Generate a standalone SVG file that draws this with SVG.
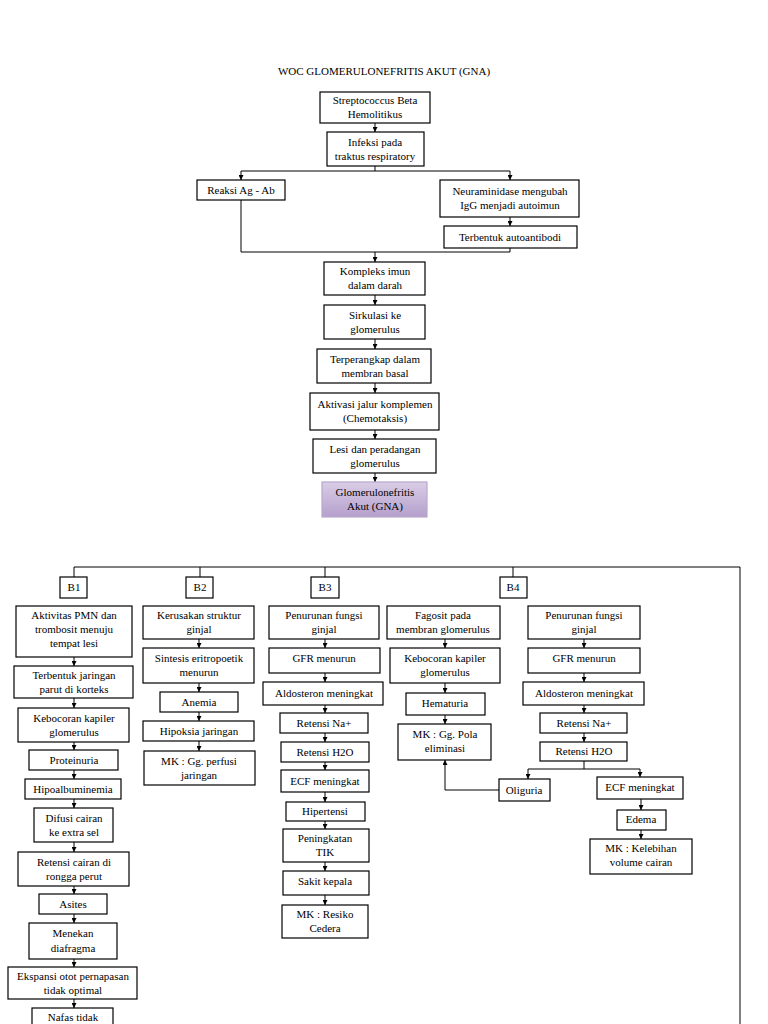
<svg xmlns="http://www.w3.org/2000/svg" width="768" height="1024" viewBox="0 0 768 1024">
<style>
rect{fill:#fff;stroke:#000;stroke-width:1.2}
text{font-family:"Liberation Serif","Times New Roman",serif;font-size:11px;text-anchor:middle;fill:#000}
.c path,.c line{fill:none;stroke:#000;stroke-width:1}
.a{marker-end:url(#ah)}
</style>
<defs>
<marker id="ah" viewBox="0 0 10 10" refX="10" refY="5" markerWidth="5" markerHeight="5" orient="auto" markerUnits="userSpaceOnUse"><path d="M0,0L10,5L0,10Z" fill="#000"/></marker>
<linearGradient id="pg" x1="0" y1="0" x2="0" y2="1"><stop offset="0" stop-color="#d9cde6"/><stop offset="1" stop-color="#b59fcc"/></linearGradient>
</defs>
<rect x="0" y="0" width="768" height="1024" style="fill:#fff;stroke:none"/>
<text x="384" y="75">WOC GLOMERULONEFRITIS AKUT (GNA)</text>
<g class="c">
<line class="a" x1="375" y1="123" x2="375" y2="132"/>
<path d="M375,166V171M241,171H510"/>
<line class="a" x1="241" y1="171" x2="241" y2="180"/>
<line class="a" x1="510" y1="171" x2="510" y2="180"/>
<line class="a" x1="510" y1="217" x2="510" y2="226"/>
<path d="M241,200V252H510V248"/>
<line class="a" x1="375" y1="252" x2="375" y2="262"/>
<line class="a" x1="375" y1="295" x2="375" y2="305"/>
<line class="a" x1="375" y1="339" x2="375" y2="349"/>
<line class="a" x1="375" y1="383" x2="375" y2="393"/>
<line class="a" x1="375" y1="430" x2="375" y2="439"/>
<line class="a" x1="375" y1="473" x2="375" y2="482"/>
<path d="M74,577V567H740V1024M200,567V577M325,567V577M513,567V577"/>
<line class="a" x1="74" y1="657" x2="74" y2="666"/>
<line class="a" x1="74" y1="698" x2="74" y2="708"/>
<line class="a" x1="74" y1="742" x2="74" y2="750"/>
<line class="a" x1="74" y1="770" x2="74" y2="779"/>
<line class="a" x1="74" y1="799" x2="74" y2="808"/>
<line class="a" x1="74" y1="842" x2="74" y2="852"/>
<line class="a" x1="74" y1="886" x2="74" y2="894"/>
<line class="a" x1="74" y1="914" x2="74" y2="923"/>
<line class="a" x1="74" y1="959" x2="74" y2="967"/>
<line class="a" x1="74" y1="999" x2="74" y2="1008"/>
<line class="a" x1="199" y1="639" x2="199" y2="648"/>
<line class="a" x1="199" y1="683" x2="199" y2="692"/>
<line class="a" x1="199" y1="712" x2="199" y2="721"/>
<line class="a" x1="199" y1="741" x2="199" y2="751"/>
<line class="a" x1="325" y1="639" x2="325" y2="648"/>
<line class="a" x1="325" y1="673" x2="325" y2="682"/>
<line class="a" x1="325" y1="705" x2="325" y2="713"/>
<line class="a" x1="325" y1="733" x2="325" y2="742"/>
<line class="a" x1="325" y1="762" x2="325" y2="770"/>
<line class="a" x1="325" y1="792" x2="325" y2="802"/>
<line class="a" x1="325" y1="821" x2="325" y2="829"/>
<line class="a" x1="325" y1="862" x2="325" y2="871"/>
<line class="a" x1="325" y1="895" x2="325" y2="905"/>
<line class="a" x1="445" y1="639" x2="445" y2="648"/>
<line class="a" x1="445" y1="683" x2="445" y2="693"/>
<line class="a" x1="445" y1="715" x2="445" y2="724"/>
<line class="a" x1="584" y1="639" x2="584" y2="648"/>
<line class="a" x1="584" y1="673" x2="584" y2="682"/>
<line class="a" x1="584" y1="705" x2="584" y2="713"/>
<line class="a" x1="584" y1="733" x2="584" y2="742"/>
<path d="M584,761V769M528,769H640"/>
<line class="a" x1="528" y1="769" x2="528" y2="779"/>
<line class="a" x1="640" y1="769" x2="640" y2="777"/>
<path class="a" d="M499,790H445V760"/>
<line class="a" x1="641" y1="799" x2="641" y2="810"/>
<line class="a" x1="641" y1="830" x2="641" y2="839"/>
</g>
<g id="n1"><rect x="320" y="92" width="110" height="31"/><text x="375" y="104">Streptococcus Beta</text><text x="375" y="118">Hemolitikus</text></g>
<g id="n2"><rect x="327" y="132" width="97" height="34"/><text x="375" y="146">Infeksi pada</text><text x="375" y="160">traktus respiratory</text></g>
<g id="n3"><rect x="197" y="180" width="88" height="20"/><text x="241" y="194">Reaksi Ag - Ab</text></g>
<g id="n4"><rect x="440" y="180" width="139" height="37"/><text x="510" y="195">Neuraminidase mengubah</text><text x="510" y="209">IgG menjadi autoimun</text></g>
<g id="n5"><rect x="444" y="226" width="133" height="22"/><text x="510" y="241">Terbentuk autoantibodi</text></g>
<g id="n6"><rect x="324" y="262" width="101" height="33"/><text x="375" y="275">Kompleks imun</text><text x="375" y="289">dalam darah</text></g>
<g id="n7"><rect x="324" y="305" width="101" height="34"/><text x="375" y="319">Sirkulasi ke</text><text x="375" y="333">glomerulus</text></g>
<g id="n8"><rect x="317" y="349" width="114" height="34"/><text x="375" y="363">Terperangkap dalam</text><text x="375" y="377">membran basal</text></g>
<g id="n9"><rect x="310" y="393" width="129" height="37"/><text x="375" y="408">Aktivasi jalur komplemen</text><text x="375" y="422">(Chemotaksis)</text></g>
<g id="n10"><rect x="313" y="439" width="123" height="34"/><text x="375" y="453">Lesi dan peradangan</text><text x="375" y="467">glomerulus</text></g>
<g id="n11"><rect x="322" y="482" width="105" height="35" style="fill:url(#pg);stroke:#b8a8cc"/><text x="375" y="496">Glomerulonefritis</text><text x="375" y="510">Akut (GNA)</text></g>
<g id="b1"><rect x="60" y="577" width="27" height="21"/><text x="74" y="591">B1</text></g>
<g id="b2"><rect x="186" y="577" width="27" height="21"/><text x="200" y="591">B2</text></g>
<g id="b3"><rect x="311" y="577" width="28" height="21"/><text x="325" y="591">B3</text></g>
<g id="b4"><rect x="500" y="577" width="27" height="21"/><text x="513" y="591">B4</text></g>
<g id="a1"><rect x="16" y="606" width="116" height="51"/><text x="74" y="619">Aktivitas PMN dan</text><text x="74" y="633">trombosit menuju</text><text x="74" y="647">tempat lesi</text></g>
<g id="a2"><rect x="14" y="666" width="119" height="32"/><text x="74" y="679">Terbentuk jaringan</text><text x="74" y="693">parut di korteks</text></g>
<g id="a3"><rect x="18" y="708" width="111" height="34"/><text x="74" y="722">Kebocoran kapiler</text><text x="74" y="736">glomerulus</text></g>
<g id="a4"><rect x="29" y="750" width="89" height="20"/><text x="74" y="764">Proteinuria</text></g>
<g id="a5"><rect x="25" y="779" width="96" height="20"/><text x="73" y="793">Hipoalbuminemia</text></g>
<g id="a6"><rect x="34" y="808" width="79" height="34"/><text x="74" y="822">Difusi cairan</text><text x="74" y="836">ke extra sel</text></g>
<g id="a7"><rect x="18" y="852" width="111" height="34"/><text x="74" y="866">Retensi cairan di</text><text x="74" y="880">rongga perut</text></g>
<g id="a8"><rect x="39" y="894" width="68" height="20"/><text x="73" y="908">Asites</text></g>
<g id="a9"><rect x="29" y="923" width="88" height="36"/><text x="73" y="937">Menekan</text><text x="73" y="952">diafragma</text></g>
<g id="a10"><rect x="8" y="967" width="129" height="32"/><text x="73" y="980">Ekspansi otot pernapasan</text><text x="73" y="994">tidak optimal</text></g>
<g id="a11"><rect x="32" y="1008" width="81" height="30"/><text x="73" y="1021">Nafas tidak</text></g>
<g id="c1"><rect x="143" y="606" width="111" height="33"/><text x="199" y="619">Kerusakan struktur</text><text x="199" y="633">ginjal</text></g>
<g id="c2"><rect x="143" y="648" width="111" height="35"/><text x="199" y="662">Sintesis eritropoetik</text><text x="199" y="676">menurun</text></g>
<g id="c3"><rect x="160" y="692" width="78" height="20"/><text x="199" y="706">Anemia</text></g>
<g id="c4"><rect x="143" y="721" width="111" height="20"/><text x="199" y="735">Hipoksia jaringan</text></g>
<g id="c5"><rect x="144" y="751" width="111" height="34"/><text x="199" y="765">MK : Gg. perfusi</text><text x="199" y="779">jaringan</text></g>
<g id="d1"><rect x="269" y="606" width="110" height="33"/><text x="324" y="619">Penurunan fungsi</text><text x="324" y="633">ginjal</text></g>
<g id="d2"><rect x="269" y="648" width="111" height="25"/><text x="324" y="662">GFR menurun</text></g>
<g id="d3"><rect x="263" y="682" width="120" height="23"/><text x="324" y="697">Aldosteron meningkat</text></g>
<g id="d4"><rect x="280" y="713" width="88" height="20"/><text x="324" y="727">Retensi Na+</text></g>
<g id="d5"><rect x="281" y="742" width="88" height="20"/><text x="325" y="756">Retensi H2O</text></g>
<g id="d6"><rect x="281" y="770" width="88" height="22"/><text x="325" y="785">ECF meningkat</text></g>
<g id="d7"><rect x="286" y="802" width="79" height="19"/><text x="325" y="815">Hipertensi</text></g>
<g id="d8"><rect x="283" y="829" width="86" height="33"/><text x="325" y="842">Peningkatan</text><text x="325" y="856">TIK</text></g>
<g id="d9"><rect x="283" y="871" width="86" height="24"/><text x="325" y="885">Sakit kepala</text></g>
<g id="d10"><rect x="282" y="905" width="86" height="33"/><text x="325" y="918">MK : Resiko</text><text x="325" y="932">Cedera</text></g>
<g id="e1"><rect x="387" y="606" width="113" height="33"/><text x="443" y="619">Fagosit pada</text><text x="443" y="633">membran glomerulus</text></g>
<g id="e2"><rect x="390" y="648" width="110" height="35"/><text x="445" y="662">Kebocoran kapiler</text><text x="445" y="676">glomerulus</text></g>
<g id="e3"><rect x="406" y="693" width="79" height="22"/><text x="445" y="707">Hematuria</text></g>
<g id="e4"><rect x="398" y="724" width="93" height="36"/><text x="445" y="738">MK : Gg. Pola</text><text x="445" y="752">eliminasi</text></g>
<g id="f1"><rect x="528" y="606" width="112" height="33"/><text x="584" y="619">Penurunan fungsi</text><text x="584" y="633">ginjal</text></g>
<g id="f2"><rect x="528" y="648" width="112" height="25"/><text x="584" y="662">GFR menurun</text></g>
<g id="f3"><rect x="523" y="682" width="121" height="23"/><text x="584" y="697">Aldosteron meningkat</text></g>
<g id="f4"><rect x="540" y="713" width="87" height="20"/><text x="584" y="727">Retensi Na+</text></g>
<g id="f5"><rect x="540" y="742" width="87" height="19"/><text x="584" y="755">Retensi H2O</text></g>
<g id="f6"><rect x="499" y="779" width="51" height="22"/><text x="524" y="794">Oliguria</text></g>
<g id="f7"><rect x="597" y="777" width="86" height="22"/><text x="640" y="791">ECF meningkat</text></g>
<g id="f8"><rect x="617" y="810" width="49" height="20"/><text x="641" y="823">Edema</text></g>
<g id="f9"><rect x="590" y="839" width="102" height="35"/><text x="641" y="852">MK : Kelebihan</text><text x="641" y="866">volume cairan</text></g>
</svg>
